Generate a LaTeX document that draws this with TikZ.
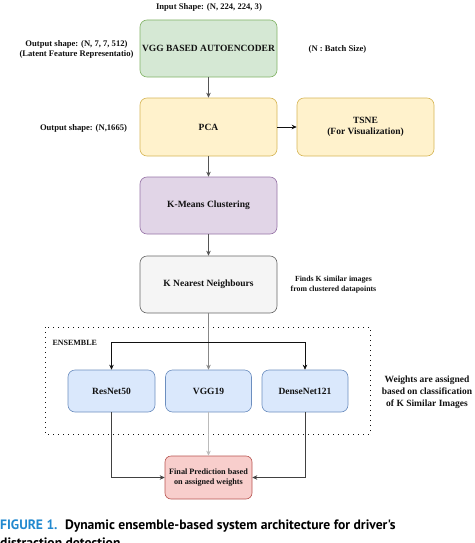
\documentclass[tikz,border=0pt]{standalone}
\usepackage{fontspec}
\setmainfont{Liberation Serif}
\newfontfamily\capfont{PT Sans}
\usetikzlibrary{positioning,arrows.meta}
\definecolor{ink}{HTML}{111111}
\definecolor{linec}{HTML}{555555}
\definecolor{lightc}{HTML}{BBBBBB}
\definecolor{greenf}{HTML}{D5E8D4}
\definecolor{greend}{HTML}{82B366}
\definecolor{yellowf}{HTML}{FFF2CC}
\definecolor{yellowd}{HTML}{D6B656}
\definecolor{purplef}{HTML}{E1D5E7}
\definecolor{purpled}{HTML}{9673A6}
\definecolor{grayf}{HTML}{F5F5F5}
\definecolor{grayd}{HTML}{666666}
\definecolor{bluef}{HTML}{DAE8FC}
\definecolor{blued}{HTML}{6C8EBF}
\definecolor{redf}{HTML}{F8CECC}
\definecolor{redd}{HTML}{B85450}
\definecolor{capblue}{HTML}{2289CF}

\begin{document}
\begin{tikzpicture}[
  x=1pt, y=-1pt,
  box/.style={rounded corners=7pt, line width=0.6pt, align=center, inner sep=2pt,
    font=\bfseries\fontsize{9.5}{11}\selectfont, text=ink},
  note/.style={font=\bfseries\fontsize{8.6}{10}\selectfont, align=center, text=ink},
  link/.style={-{Stealth[length=5pt,width=4.5pt]}, line width=0.6pt, draw=linec},
]
\useasboundingbox (0,0) rectangle (474,543);

% Top: autoencoder
\node[note] (inshape) at (209,7) {Input Shape: (N, 224, 224, 3)};
\node[box, draw=greend, fill=greenf, minimum width=137pt, minimum height=57pt] (vgg) at (208.5,48.5) {VGG BASED AUTOENCODER};
\node[note] (outshape) at (76.5,49) {Output shape: (N, 7, 7, 512)\\(Latent Feature Representatio)};
\node[note] (batch) at (337.5,49) {(N : Batch Size)};

% PCA and TSNE
\node[box, draw=yellowd, fill=yellowf, minimum width=137pt, minimum height=58pt] (pca) at (208.5,127) {PCA};
\node[box, draw=yellowd, fill=yellowf, minimum width=137pt, minimum height=58pt] (tsne) at (365.5,127) {TSNE\\(For Visualization)};
\node[note] (pcashape) at (83.5,128) {Output shape: (N,1665)};

% Clustering and neighbours
\node[box, draw=purpled, fill=purplef, minimum width=137pt, minimum height=57pt] (kmeans) at (208.5,205.5) {K-Means Clustering};
\node[box, draw=grayd, fill=grayf, minimum width=137pt, minimum height=57pt] (knn) at (208.5,284.5) {K Nearest Neighbours};
\node[note, font=\bfseries\fontsize{7.8}{10}\selectfont] (finds) at (333.5,285) {Finds K similar images\\from clustered datapoints};

% Ensemble
\draw[ink, line width=0.9pt, dash pattern=on 0.9pt off 4.1pt] (45,327) rectangle (370,434);
\node[font=\bfseries\fontsize{8}{9}\selectfont, text=ink, anchor=west] (enslabel) at (49,343) {ENSEMBLE};
\node[box, draw=blued, fill=bluef, minimum width=87pt, minimum height=42pt] (resnet) at (111.5,391) {ResNet50};
\node[box, draw=blued, fill=bluef, minimum width=86pt, minimum height=42pt] (vgg19) at (208.5,391) {VGG19};
\node[box, draw=blued, fill=bluef, minimum width=86pt, minimum height=42pt] (dense) at (305,391) {DenseNet121};
\node[note, font=\bfseries\fontsize{9.5}{12}\selectfont] (weights) at (427,392.5) {Weights are assigned\\based on classification\\of K Similar Images};

% Final prediction
\node[box, draw=redd, fill=redf, minimum width=87pt, minimum height=43pt, rounded corners=6pt,
  font=\bfseries\fontsize{8.2}{10}\selectfont, inner sep=1pt] (final) at (208.5,477.5) {Final Prediction based\\on assigned weights};

% Connectors
\draw[link] (vgg) -- (pca);
\draw[link, draw=ink, line width=0.9pt] (pca) -- (tsne);
\draw[link] (pca) -- (kmeans);
\draw[link] (kmeans) -- (knn);
\coordinate (split) at (208.5,342);
\draw[link, draw=linec!70] (knn) -- (vgg19);
\draw[link, draw=ink] (split) -| (resnet);
\draw[link, draw=ink] (split) -| (dense);
\draw[link, draw=lightc] (vgg19) -- (final);
\draw[link, draw=ink!80] (resnet) |- (final);
\draw[link, draw=ink!80] (dense) |- (final);

% Caption
\node[anchor=base west, font=\capfont\bfseries\fontsize{13.6}{16}\selectfont, inner sep=0pt] (caption) at (0,529.5)
  {\textcolor{capblue}{FIGURE 1.}\hspace{0.55em}Dynamic ensemble-based system architecture for driver's};
\node[anchor=base west, font=\capfont\bfseries\fontsize{13.6}{16}\selectfont, inner sep=0pt] (caption2) at (0,547.5) {distraction detection};
\end{tikzpicture}
\end{document}
